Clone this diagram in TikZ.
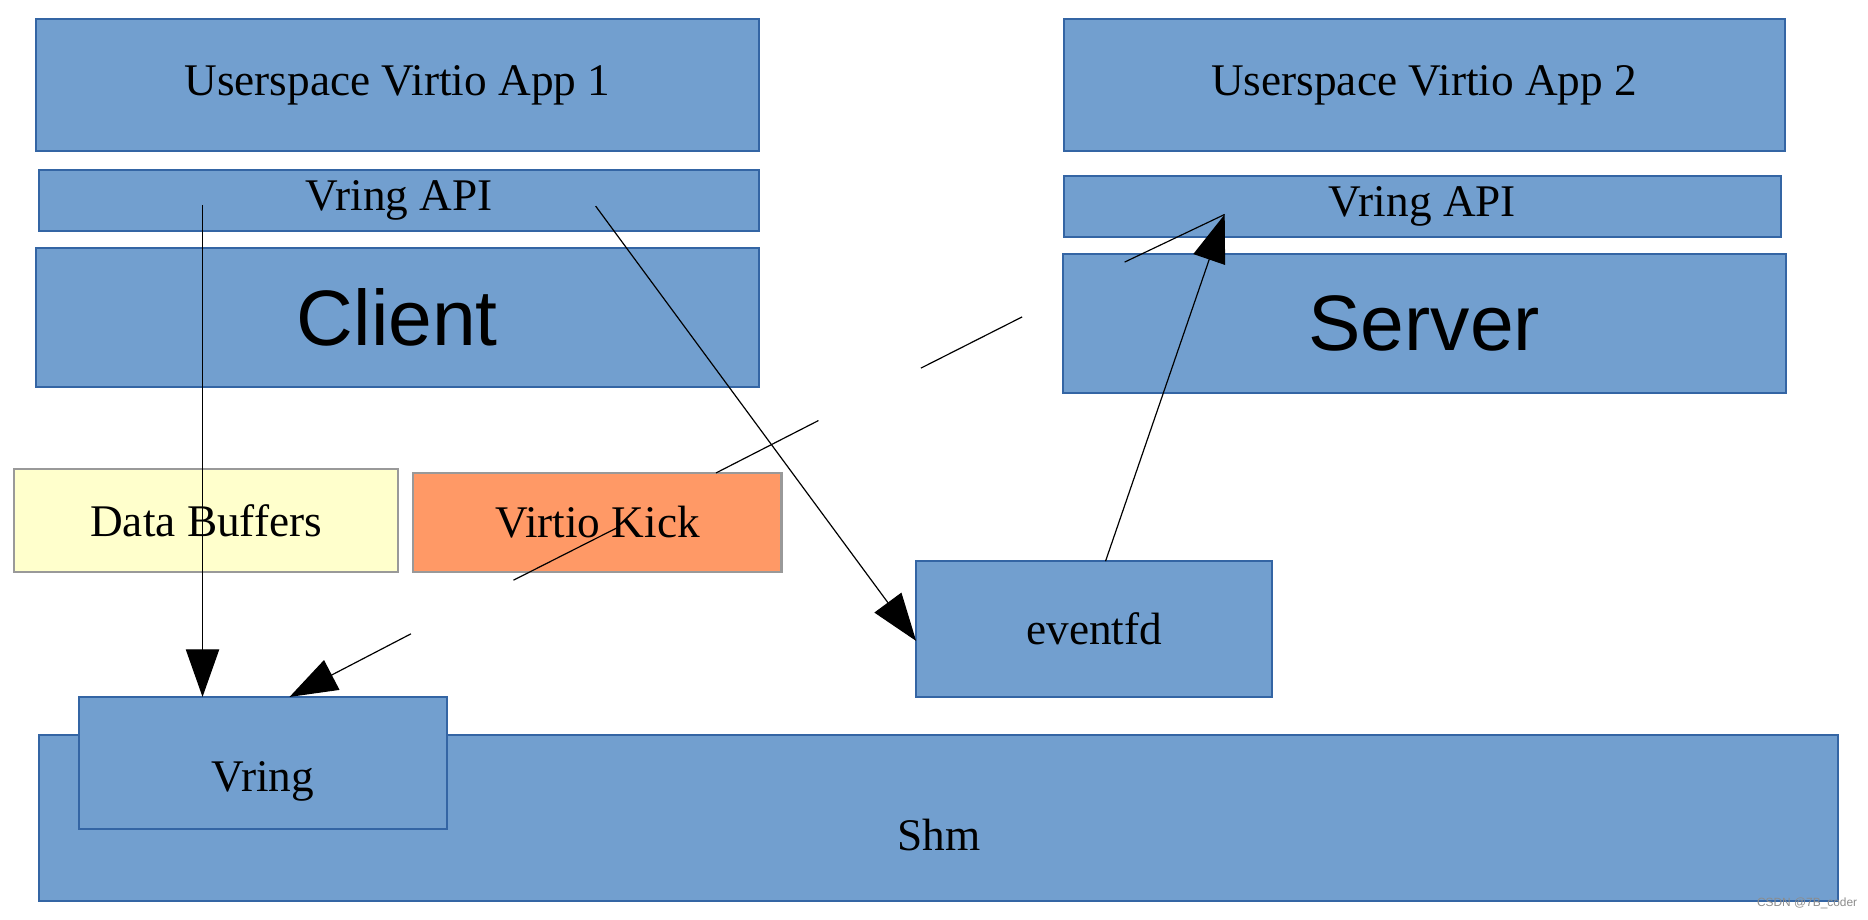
\documentclass[tikz,border=0pt]{standalone}
\usepackage{fontspec}
\setmainfont{Liberation Serif}
\newfontfamily\sansf{Liberation Sans}
\usetikzlibrary{arrows.meta}
\definecolor{bfill}{HTML}{729FCF}
\definecolor{bdraw}{HTML}{3465A4}
\definecolor{yfill}{HTML}{FFFFCC}
\definecolor{ofill}{HTML}{FF9966}
\begin{document}
\begin{tikzpicture}[x=0.5pt,y=-0.5pt,
  box/.style={draw=bdraw,line width=0.9pt,fill=bfill,inner sep=0pt,font=\fontsize{19}{22}\selectfont},
  arr/.style={line width=0.5pt,-{Triangle[length=20pt,width=14pt]}},
  seg/.style={line width=0.5pt}]
\useasboundingbox (0,0) rectangle (1568,772);
\fill[white] (0,0) rectangle (1568,772);
\newcommand{\bx}[6]{\node[box,#6,minimum width=#4*0.5pt-#2*0.5pt,minimum height=#5*0.5pt-#3*0.5pt] (#1) at ({(#2+#4)/2},{(#3+#5)/2}) {};}
\bx{app1}{30}{16}{637}{127}{}
\bx{app2}{893}{16}{1498}{127}{}
\bx{api1}{33}{143}{637}{194}{}
\bx{api2}{893}{148}{1495}{199}{}
\bx{client}{30}{208}{637}{325}{}
\bx{server}{892}{213}{1499}{330}{}
\bx{data}{12}{394}{334}{480}{fill=yfill,draw=black!40}
\bx{kick}{347}{397}{656}{480}{fill=ofill,draw=black!40}
\bx{event}{769}{471}{1068}{585}{}
\bx{shm}{33}{617}{1543}{756}{}
\bx{vring}{66}{585}{375}{696}{}
\tikzset{lbl/.style={font=\fontsize{19}{22}\selectfont}}
\node[lbl] at (app1.center) {Userspace Virtio App 1};
\node[lbl] at (app2.center) {Userspace Virtio App 2};
\node[lbl] at (api1.center) {Vring API};
\node[lbl] at (api2.center) {Vring API};
\node[font=\sansf\fontsize{33}{36}\selectfont] at (client.center) {Client};
\node[font=\sansf\fontsize{33}{36}\selectfont] at (server.center) {Server};
\node[lbl] at (data.center) {Data Buffers};
\node[lbl] at (kick.center) {Virtio Kick};
\node[lbl] at (event.center) {eventfd};
\node[lbl] at ([yshift=-0.5pt*14]shm.center) {Shm};
\node[lbl] at ([yshift=-0.5pt*15]vring.center) {Vring};
\node[font=\sansf\fontsize{5}{6}\selectfont,text=black!45,anchor=south east] (wm) at (1566,770) {CSDN @7B\_coder};
\coordinate (a1s) at (170,172); \coordinate (a1e) at (170,585);
\coordinate (a2s) at (500,173); \coordinate (a2e) at (769,538);
\coordinate (a3s) at (928,471); \coordinate (a3e) at (1028,180);
\coordinate (a4s) at (345,532); \coordinate (a4e) at (243,585);
\draw[arr] (a1s) -- (a1e);
\draw[arr] (a2s) -- (a2e);
\draw[arr] (a3s) -- (a3e);
\draw[arr] (a4s) -- (a4e);
\coordinate (s1a) at (944,220); \coordinate (s1b) at (1028,180);
\coordinate (s2a) at (773,309); \coordinate (s2b) at (858,266);
\coordinate (s3a) at (601,397); \coordinate (s3b) at (687,353);
\coordinate (s4a) at (431,487); \coordinate (s4b) at (518,443);
\draw[seg] (s1a)--(s1b); \draw[seg] (s2a)--(s2b);
\draw[seg] (s3a)--(s3b); \draw[seg] (s4a)--(s4b);
\end{tikzpicture}
\end{document}
